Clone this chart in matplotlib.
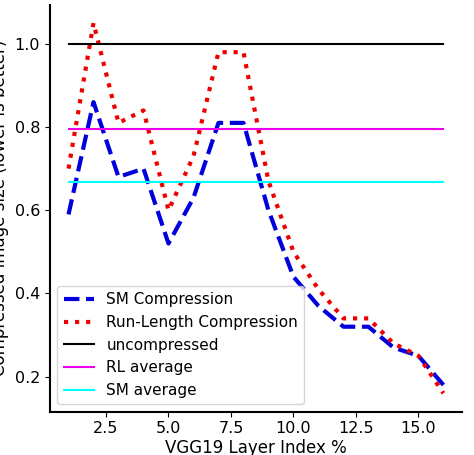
import matplotlib
matplotlib.use("Agg")
import matplotlib.pyplot as plt
import numpy as np

layers = list(range(1, 17))
sm = [0.59, 0.86, 0.68, 0.70, 0.52, 0.63, 0.81, 0.81, 0.60, 0.44, 0.37, 0.32, 0.32, 0.27, 0.25, 0.18]
rl = [0.70, 1.05, 0.81, 0.84, 0.60, 0.73, 0.98, 0.98, 0.67, 0.50, 0.41, 0.34, 0.34, 0.28, 0.25, 0.16]
uncompressed = 1.0
rl_avg = 0.795
sm_avg = 0.668

fig, ax = plt.subplots(figsize=(4.74, 4.55), dpi=100)
ax.plot(layers, sm, '--', color='#0000dd', lw=3, label='SM Compression')
ax.plot(layers, rl, ':', color='#ee0000', lw=3, label='Run-Length Compression')
ax.plot([layers[0], layers[-1]], [uncompressed]*2, color='black', lw=1.5, label='uncompressed')
ax.plot([layers[0], layers[-1]], [rl_avg]*2, color='#ee00ee', lw=1.5, label='RL average')
ax.plot([layers[0], layers[-1]], [sm_avg]*2, color='cyan', lw=1.5, label='SM average')
ax.set_xticks([2.5, 5.0, 7.5, 10.0, 12.5, 15.0])
ax.set_yticks([0.2, 0.4, 0.6, 0.8, 1.0])
ax.tick_params(labelsize=11.5)
ax.set_xlabel('VGG19 Layer Index %', fontsize=12, labelpad=2)
ax.set_ylabel('Compressed image size (lower is better)', fontsize=12, labelpad=4)
for s in ['top', 'right']:
    ax.spines[s].set_visible(False)
for s in ['left', 'bottom']:
    ax.spines[s].set_linewidth(1.5)
ax.legend(loc='lower left', fontsize=11)
fig.subplots_adjust(left=0.105, right=0.975, top=0.99, bottom=0.095)
fig.savefig('out.png')
